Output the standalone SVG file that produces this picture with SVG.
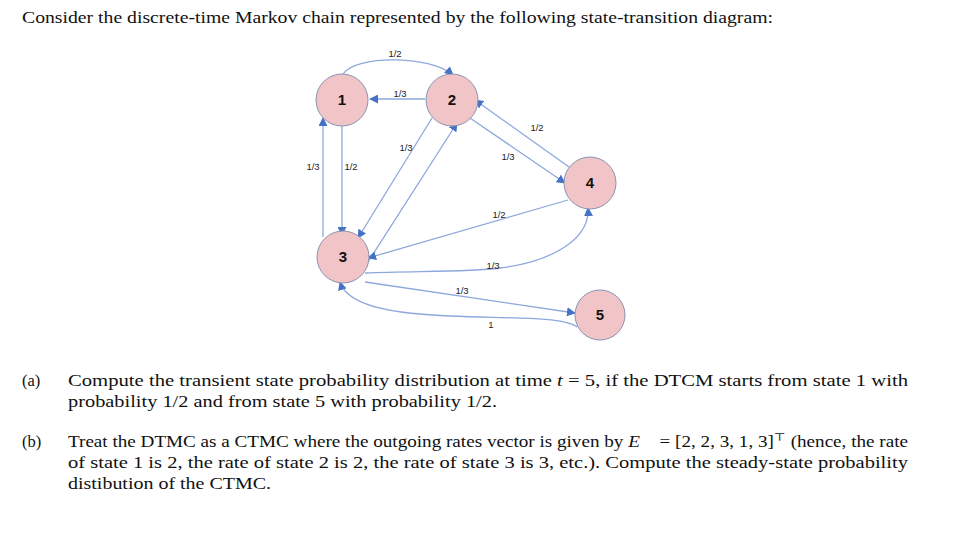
<svg xmlns="http://www.w3.org/2000/svg" width="972" height="544" viewBox="0 0 972 544">
<style>
.t{font-family:"Liberation Serif","DejaVu Serif",serif;font-size:16.5px;fill:#111}
.n circle{fill:#f1c5c7;stroke:#8a93b3;stroke-width:1}
.n text{font-family:"Liberation Sans",Arial,sans-serif;font-size:15px;font-weight:bold;text-anchor:middle;fill:#111}
.e path{fill:none;stroke:#8ea8dc;stroke-width:1.3}
.l{font-family:"Liberation Sans",Arial,sans-serif;font-size:9.5px;fill:#222;text-anchor:middle}
</style>
<defs><marker id="a" viewBox="0 0 10 10" refX="9" refY="5" markerWidth="9" markerHeight="9" markerUnits="userSpaceOnUse" orient="auto"><path d="M0,0L10,5L0,10z" fill="#4472c4"/></marker></defs>
<rect width="972" height="544" fill="#fff"/>
<text class="t" x="22" y="23" textLength="751" lengthAdjust="spacingAndGlyphs">Consider the discrete-time Markov chain represented by the following state-transition diagram:</text>
<g class="e" marker-end="url(#a)">
<path d="M343,74 C355,55 430,55 453,75"/>
<path d="M425,99 L370,99"/>
<path d="M342,125 L342,235"/>
<path d="M323,237 L323,118"/>
<path d="M432,118 L358,238"/>
<path d="M368,262 L457,123"/>
<path d="M470,118 L565,183"/>
<path d="M569,167 L475,100"/>
<path d="M568,200 L368,258"/>
<path d="M365,273 C420,271 470,272 500,268 C550,262 590,240 588,208"/>
<path d="M365,282 L575,313"/>
<path d="M577,327 C560,314 480,320 420,314 C370,310 345,298 340,282"/>
</g>
<g>
<text class="l" x="395" y="57">1/2</text>
<text class="l" x="400" y="97">1/3</text>
<text class="l" x="351" y="170">1/2</text>
<text class="l" x="313" y="170">1/3</text>
<text class="l" x="406" y="151">1/3</text>
<text class="l" x="508" y="160">1/3</text>
<text class="l" x="537" y="131">1/2</text>
<text class="l" x="499" y="218">1/2</text>
<text class="l" x="493" y="269">1/3</text>
<text class="l" x="462" y="294">1/3</text>
<text class="l" x="491" y="328">1</text>
</g>
<g id="n1" class="n"><circle cx="342" cy="100" r="26"/><text x="342" y="105">1</text></g>
<g id="n2" class="n"><circle cx="452" cy="100" r="26"/><text x="452" y="105">2</text></g>
<g id="n3" class="n"><circle cx="343" cy="257" r="26"/><text x="343" y="262">3</text></g>
<g id="n4" class="n"><circle cx="590" cy="183" r="26"/><text x="590" y="188">4</text></g>
<g id="n5" class="n"><circle cx="600" cy="315" r="25"/><text x="600" y="320">5</text></g>
<text class="t" x="22" y="386">(a)</text>
<text class="t" x="68" y="386" textLength="840" lengthAdjust="spacingAndGlyphs">Compute the transient state probability distribution at time <tspan font-style="italic">t</tspan> = 5, if the DTCM starts from state 1 with</text>
<text class="t" x="68" y="407" textLength="429" lengthAdjust="spacingAndGlyphs">probability 1/2 and from state 5 with probability 1/2.</text>
<text class="t" x="22" y="447">(b)</text>
<text class="t" x="68" y="447" textLength="840" lengthAdjust="spacingAndGlyphs">Treat the DTMC as a CTMC where the outgoing rates vector is given by <tspan font-style="italic">E⃗</tspan> = [2, 2, 3, 1, 3]<tspan font-size="11" dy="-6">⊤</tspan><tspan dy="6"> (hence, the rate</tspan></text>
<text class="t" x="68" y="468" textLength="840" lengthAdjust="spacingAndGlyphs">of state 1 is 2, the rate of state 2 is 2, the rate of state 3 is 3, etc.). Compute the steady-state probability</text>
<text class="t" x="68" y="489" textLength="203" lengthAdjust="spacingAndGlyphs">distibution of the CTMC.</text>
</svg>
